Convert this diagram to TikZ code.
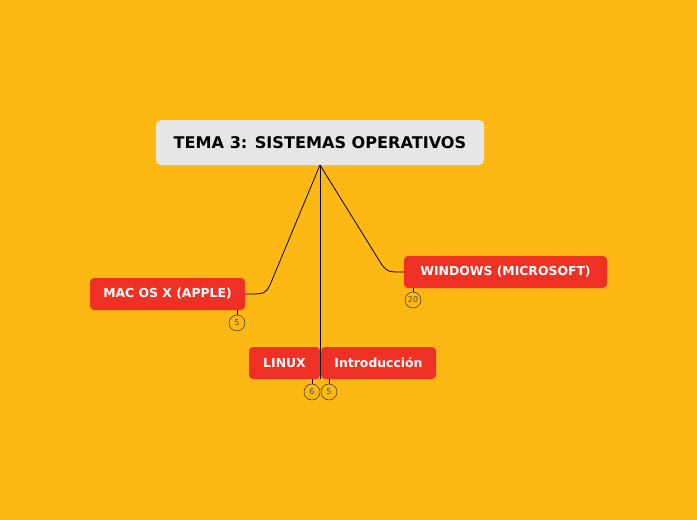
\documentclass[tikz,border=0pt]{standalone}
\usepackage{fontspec}
\setmainfont{DejaVu Sans}
\definecolor{bg}{HTML}{FDB813}
\definecolor{rbox}{HTML}{EE3124}
\definecolor{gbox}{HTML}{E6E6E6}
\begin{document}
\begin{tikzpicture}[x=1pt,y=-1pt,
  topic/.style={fill=rbox,rounded corners=4pt,text=white,font=\bfseries\fontsize{12.4}{14}\selectfont,minimum height=32pt,inner xsep=0pt},
  badge/.style={circle,draw=black!80,line width=0.5pt,minimum size=16pt,inner sep=0pt,font=\fontsize{8}{9}\selectfont,text=black!70},
  conn/.style={line width=0.8pt,black}]
\fill[bg] (0,0) rectangle (697,520);
\useasboundingbox (0,0) rectangle (697,520);
\node[fill=gbox,rounded corners=5pt,minimum width=328pt,minimum height=45pt,font=\bfseries\fontsize{16.1}{18}\selectfont] (t) at (320,142.5) {TEMA 3: SISTEMAS OPERATIVOS};
\node[topic,minimum width=155pt] (mac) at (167.5,294) {MAC OS X (APPLE)};
\node[topic,minimum width=203pt] (win) at (505.5,272) {WINDOWS (MICROSOFT)};
\node[topic,minimum width=71pt] (lin) at (284.5,363) {LINUX};
\node[topic,minimum width=115pt] (intro) at (378.5,363) {Introducción};
\node[badge] (b1) at (237,323) {5};
\node[badge] (b2) at (413,300) {20};
\node[badge] (b3) at (312,392) {6};
\node[badge] (b4) at (329,392) {5};
\coordinate (o) at (320,165);
\draw[conn] (o) -- (270,285) .. controls (265,294) .. (mac.east);
\draw[conn] (o) -- (382,265) .. controls (388,272) .. (win.west);
\draw[conn] (o) -- (320,379);
\draw[conn] (b1) -- (b1 |- mac.south);
\draw[conn] (b2) -- (b2 |- win.south);
\draw[conn] (b3) -- (b3 |- lin.south);
\draw[conn] (b4) -- (b4 |- intro.south);
\end{tikzpicture}
\end{document}
